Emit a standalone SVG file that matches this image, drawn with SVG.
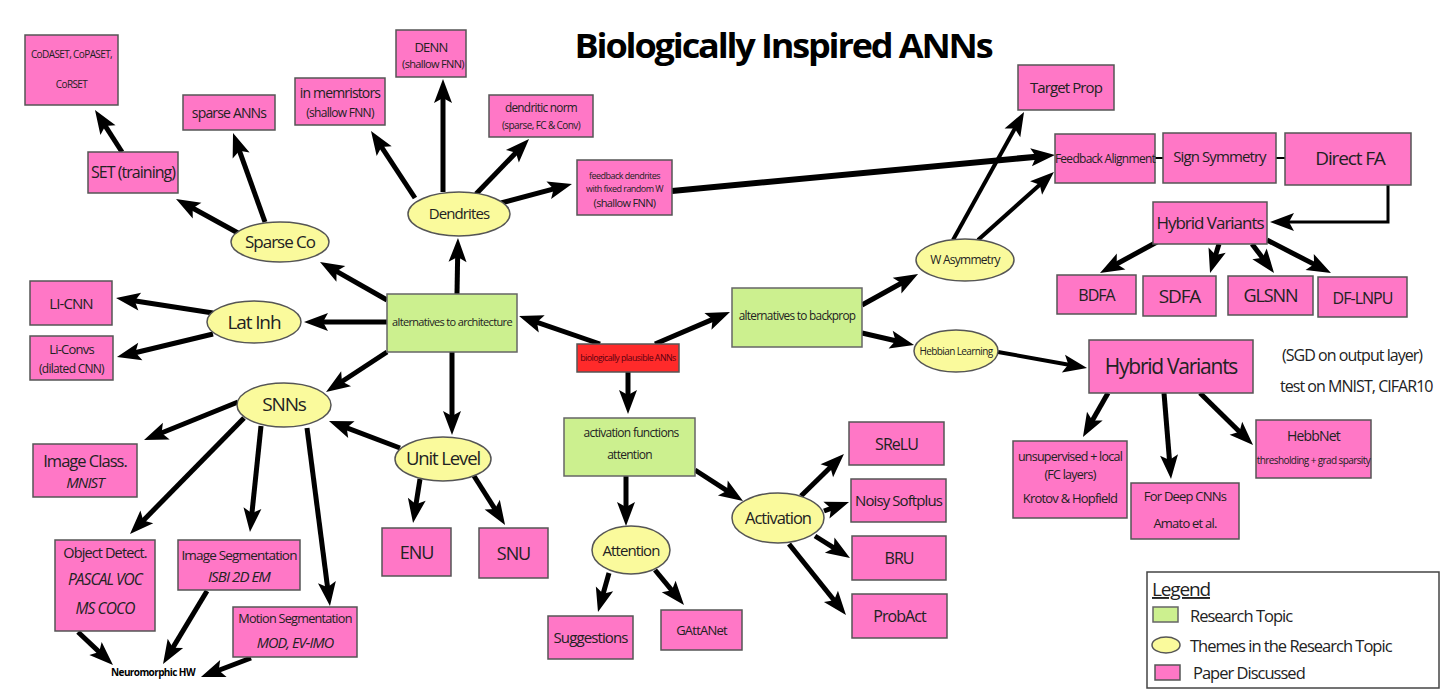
<svg xmlns="http://www.w3.org/2000/svg" width="1446" height="695" viewBox="0 0 1446 695">
<defs>
<marker id="ah" markerUnits="userSpaceOnUse" markerWidth="24" markerHeight="18" refX="14" refY="9" orient="auto" overflow="visible">
<path d="M0,0 L24,9 L0,18 L5,9 Z" fill="#000"/>
</marker>
<style>
text{font-family:"Open Sans","Noto Sans",sans-serif;fill:#222;text-anchor:middle;letter-spacing:-0.06em}
.p{fill:#FF77C6;stroke:#555;stroke-width:1.5}
.g{fill:#CCF08F;stroke:#666;stroke-width:1.5}
.y{fill:#FAFA9C;stroke:#555;stroke-width:1.5}
.r{fill:#FF2A2A;stroke:#555;stroke-width:1.5}
.c line,.c path{stroke:#000;stroke-width:5;fill:none;marker-end:url(#ah)}
.c .thin{stroke-width:2;marker-end:none}
.i{font-style:italic}
</style>
</defs>
<rect width="1446" height="695" fill="#fff"/>
<text x="783" y="58" font-size="34" font-weight="bold" fill="#000" style="fill:#000" textLength="417" lengthAdjust="spacingAndGlyphs">Biologically Inspired ANNs</text>

<g class="c" id="connectors">
<line x1="600" y1="344" x2="528.5" y2="319.3"/>
<line x1="655" y1="344" x2="720.8" y2="315.9"/>
<line x1="628" y1="372" x2="628" y2="404"/>
<line x1="457" y1="294" x2="457.8" y2="248"/>
<line x1="387" y1="300" x2="328.7" y2="266.9"/>
<line x1="387" y1="322" x2="314" y2="322"/>
<line x1="387" y1="352" x2="334.4" y2="386.5"/>
<line x1="452" y1="352" x2="452" y2="425"/>
<line x1="238" y1="233" x2="184.8" y2="203.8"/>
<line x1="265" y1="222" x2="236.4" y2="142.4"/>
<line x1="122" y1="152" x2="100.4" y2="118.4"/>
<line x1="415" y1="198" x2="376.5" y2="139.4"/>
<line x1="443" y1="192" x2="443" y2="89"/>
<line x1="476" y1="194" x2="522.1" y2="146.2"/>
<line x1="501" y1="203" x2="562.3" y2="186.6"/>
<line x1="672" y1="191" x2="1045" y2="155.9" style="stroke-width:6"/>
<line x1="213" y1="313" x2="125.9" y2="299.5"/>
<line x1="213" y1="334" x2="126.7" y2="354.7"/>
<line x1="238" y1="402" x2="153.3" y2="436.3"/>
<line x1="244" y1="418" x2="137" y2="526.9"/>
<line x1="261" y1="426" x2="251" y2="522.1"/>
<line x1="307" y1="428" x2="328.7" y2="596.1"/>
<line x1="400" y1="448" x2="338.3" y2="424.6"/>
<line x1="420" y1="479" x2="414.6" y2="513.1"/>
<line x1="474" y1="476" x2="499.7" y2="516.5"/>
<line x1="78" y1="632" x2="105.7" y2="658.1"/>
<line x1="207" y1="591" x2="168.2" y2="655.4"/>
<line x1="251" y1="658" x2="210.3" y2="673.5"/>
<line x1="862" y1="305" x2="909.3" y2="278.8"/>
<line x1="862" y1="333" x2="904.3" y2="342.8"/>
<line x1="953" y1="240" x2="1019.2" y2="120.7" style="stroke-width:4"/>
<line x1="978" y1="240" x2="1046.5" y2="178.7" style="stroke-width:4"/>
<line x1="998" y1="352" x2="1077.2" y2="366.2" style="stroke-width:4"/>
<path d="M1388,185 V222 H1280" style="stroke-width:3"/>
<line x1="1168" y1="236" x2="1108.8" y2="268.2"/>
<line x1="1219" y1="244" x2="1213" y2="263.5"/>
<line x1="1252" y1="244" x2="1268" y2="265"/>
<line x1="1267" y1="240" x2="1322.1" y2="268.4"/>
<line x1="1108" y1="393" x2="1087.9" y2="428.3"/>
<line x1="1164" y1="393" x2="1170.2" y2="469"/>
<line x1="1200" y1="393" x2="1245.9" y2="438"/>
<line x1="626" y1="476" x2="626" y2="516"/>
<line x1="695" y1="470" x2="734.6" y2="495.6"/>
<line x1="609" y1="573" x2="600.7" y2="602.4"/>
<line x1="655" y1="570" x2="677.6" y2="597.3"/>
<line x1="801" y1="496" x2="836.8" y2="461"/>
<line x1="824" y1="511" x2="839.6" y2="505.4"/>
<line x1="815" y1="536" x2="841.5" y2="552.7"/>
<line x1="789" y1="544" x2="839.7" y2="607.2"/>
<line class="thin" x1="1155" y1="158" x2="1163" y2="158"/>
<line class="thin" x1="1276" y1="158" x2="1285" y2="158"/>
</g>

<g id="n-bio"><rect class="r" x="577" y="344" width="102" height="28"/><text x="628" y="361" font-size="8.8" style="fill:#5a0010">biologically plausible ANNs</text></g>
<g id="n-altarch"><rect class="g" x="387" y="294" width="130" height="58"/><text x="452" y="326" font-size="11">alternatives to architecture</text></g>
<g id="n-altbp"><rect class="g" x="732" y="288" width="130" height="59"/><text x="797" y="320" font-size="11.8">alternatives to backprop</text></g>
<g id="n-actfn"><rect class="g" x="564" y="418" width="131" height="58"/><text x="631" y="437" font-size="12">activation functions</text><text x="629.5" y="459" font-size="12">attention</text></g>

<g id="n-sparseco"><ellipse class="y" cx="280" cy="242" rx="49" ry="20"/><text x="280" y="248" font-size="17">Sparse Co</text></g>
<g id="n-dendrites"><ellipse class="y" cx="459" cy="214" rx="51" ry="22"/><text x="459" y="219" font-size="15">Dendrites</text></g>
<g id="n-latinh"><ellipse class="y" cx="254" cy="322" rx="47" ry="21"/><text x="254" y="329" font-size="19">Lat Inh</text></g>
<g id="n-snns"><ellipse class="y" cx="284" cy="405" rx="47" ry="22"/><text x="284" y="411" font-size="19">SNNs</text></g>
<g id="n-unit"><ellipse class="y" cx="443" cy="459" rx="48" ry="22"/><text x="443" y="465" font-size="18.5">Unit Level</text></g>
<g id="n-attention"><ellipse class="y" cx="631" cy="550" rx="39" ry="24"/><text x="631" y="556" font-size="15">Attention</text></g>
<g id="n-activation"><ellipse class="y" cx="778" cy="518" rx="46" ry="25"/><text x="778" y="524" font-size="16.5">Activation</text></g>
<g id="n-wasym"><ellipse class="y" cx="965" cy="260" rx="49" ry="21"/><text x="965" y="264" font-size="12">W Asymmetry</text></g>
<g id="n-hebb"><ellipse class="y" cx="956" cy="351" rx="42" ry="21"/><text x="956" y="355" font-size="10">Hebbian Learning</text></g>

<g id="n-codaset"><rect class="p" x="25" y="35" width="93" height="70"/><text x="71.5" y="58" font-size="10">CoDASET, CoPASET,</text><text x="71.5" y="88" font-size="10">CoRSET</text></g>
<g id="n-set"><rect class="p" x="88" y="152" width="90" height="41"/><text x="133" y="178" font-size="16">SET (training)</text></g>
<g id="n-sparseanns"><rect class="p" x="183" y="95" width="92" height="35"/><text x="229" y="118" font-size="14">sparse ANNs</text></g>
<g id="n-memristors"><rect class="p" x="295" y="78" width="90" height="47"/><text x="340" y="98" font-size="14">in memristors</text><text x="340" y="117" font-size="12">(shallow FNN)</text></g>
<g id="n-denn"><rect class="p" x="396" y="30" width="70" height="47"/><text x="431" y="52" font-size="13">DENN</text><text x="433" y="68" font-size="11">(shallow FNN)</text></g>
<g id="n-dnorm"><rect class="p" x="489" y="95" width="104" height="42"/><text x="541" y="112" font-size="11.8">dendritic norm</text><text x="541" y="129" font-size="10">(sparse, FC &amp; Conv)</text></g>
<g id="n-fbd"><rect class="p" x="577" y="160" width="95" height="55"/><text x="624.5" y="179" font-size="9">feedback dendrites</text><text x="624.5" y="192" font-size="9">with fixed random W</text><text x="624.5" y="207" font-size="11">(shallow FNN)</text></g>
<g id="n-licnn"><rect class="p" x="30" y="281" width="82" height="44"/><text x="71" y="309" font-size="15">LI-CNN</text></g>
<g id="n-liconvs"><rect class="p" x="30" y="336" width="83" height="44"/><text x="71.5" y="354" font-size="13">Li-Convs</text><text x="71.5" y="373" font-size="12">(dilated CNN)</text></g>
<g id="n-imgclass"><rect class="p" x="33" y="444" width="104" height="53"/><text x="85" y="467" font-size="16.5">Image Class.</text><text class="i" x="85" y="488" font-size="15">MNIST</text></g>
<g id="n-objdet"><rect class="p" x="55" y="540" width="100" height="91"/><text x="105" y="558" font-size="14.5">Object Detect.</text><text class="i" x="105" y="585" font-size="15.5">PASCAL VOC</text><text class="i" x="105" y="614" font-size="15.5">MS COCO</text></g>
<g id="n-imgseg"><rect class="p" x="178" y="540" width="122" height="50"/><text x="239" y="560" font-size="13.5">Image Segmentation</text><text class="i" x="239" y="582" font-size="15">ISBI 2D EM</text></g>
<g id="n-motseg"><rect class="p" x="233" y="607" width="124" height="50"/><text x="295" y="623" font-size="12.7">Motion Segmentation</text><text class="i" x="295" y="648" font-size="14.5">MOD, EV-IMO</text></g>
<g id="n-nhw"><text x="153" y="676" font-size="10" font-weight="bold" style="fill:#000">Neuromorphic HW</text></g>
<g id="n-enu"><rect class="p" x="382" y="528" width="69" height="48"/><text x="416.5" y="559" font-size="18">ENU</text></g>
<g id="n-snu"><rect class="p" x="479" y="528" width="69" height="50"/><text x="513.5" y="560" font-size="18">SNU</text></g>
<g id="n-sugg"><rect class="p" x="548" y="616" width="85" height="43"/><text x="590.5" y="643" font-size="15">Suggestions</text></g>
<g id="n-gatt"><rect class="p" x="661" y="610" width="81" height="40"/><text x="701.5" y="635" font-size="13">GAttANet</text></g>
<g id="n-srelu"><rect class="p" x="849" y="422" width="95" height="43"/><text x="896.5" y="450" font-size="16">SReLU</text></g>
<g id="n-noisy"><rect class="p" x="851" y="479" width="95" height="43"/><text x="898.5" y="506" font-size="15">Noisy Softplus</text></g>
<g id="n-bru"><rect class="p" x="852" y="536" width="94" height="44"/><text x="899" y="564" font-size="16">BRU</text></g>
<g id="n-probact"><rect class="p" x="852" y="594" width="95" height="44"/><text x="899.5" y="622" font-size="16">ProbAct</text></g>
<g id="n-target"><rect class="p" x="1018" y="65" width="96" height="45"/><text x="1066" y="93" font-size="15">Target Prop</text></g>
<g id="n-fa"><rect class="p" x="1055" y="134" width="100" height="49"/><text x="1105" y="163" font-size="12">Feedback Alignment</text></g>
<g id="n-ss"><rect class="p" x="1163" y="133" width="113" height="50"/><text x="1219.5" y="162" font-size="15">Sign Symmetry</text></g>
<g id="n-dfa"><rect class="p" x="1285" y="133" width="126" height="52"/><text x="1350" y="165" font-size="19">Direct FA</text></g>
<g id="n-hyb1"><rect class="p" x="1153" y="202" width="114" height="42"/><text x="1210" y="229" font-size="17">Hybrid Variants</text></g>
<g id="n-bdfa"><rect class="p" x="1057" y="275" width="79" height="39"/><text x="1096.5" y="301" font-size="16">BDFA</text></g>
<g id="n-sdfa"><rect class="p" x="1143" y="276" width="73" height="40"/><text x="1179.5" y="303" font-size="19">SDFA</text></g>
<g id="n-glsnn"><rect class="p" x="1228" y="276" width="85" height="39"/><text x="1270.5" y="302" font-size="18">GLSNN</text></g>
<g id="n-dflnpu"><rect class="p" x="1318" y="277" width="89" height="40"/><text x="1362.5" y="304" font-size="16">DF-LNPU</text></g>
<g id="n-hyb2"><rect class="p" x="1089" y="340" width="164" height="53"/><text x="1171" y="374" font-size="21">Hybrid Variants</text></g>
<g id="n-sgdnote"><text x="1282" y="361" font-size="16" style="text-anchor:start">(SGD on output layer)</text><text x="1280" y="392" font-size="16" style="text-anchor:start">test on MNIST, CIFAR10</text></g>
<g id="n-unsup"><rect class="p" x="1013" y="441" width="114" height="77"/><text x="1070" y="461" font-size="12.5">unsupervised + local</text><text x="1070" y="479" font-size="12.5">(FC layers)</text><text x="1070" y="503" font-size="13">Krotov &amp; Hopfield</text></g>
<g id="n-deepcnn"><rect class="p" x="1131" y="483" width="108" height="56"/><text x="1185" y="501" font-size="13">For Deep CNNs</text><text x="1185" y="528" font-size="13">Amato et al.</text></g>
<g id="n-hebbnet"><rect class="p" x="1256" y="420" width="115" height="58"/><text x="1313.5" y="441" font-size="14">HebbNet</text><text x="1313.5" y="464" font-size="10">thresholding + grad  sparsity</text></g>

<g id="legend">
<rect x="1147" y="572" width="292" height="116" fill="#fff" stroke="#444" stroke-width="1.5"/>
<text x="1152" y="596" font-size="19" style="text-anchor:start" text-decoration="underline">Legend</text>
<rect class="g" x="1153" y="607" width="25" height="15"/>
<text x="1190" y="622" font-size="16.5" style="text-anchor:start">Research Topic</text>
<ellipse class="y" cx="1166" cy="645" rx="14" ry="8"/>
<text x="1190" y="652" font-size="16.5" style="text-anchor:start">Themes in the Research Topic</text>
<rect class="p" x="1155" y="665" width="25" height="15"/>
<text x="1193" y="679" font-size="16.5" style="text-anchor:start">Paper Discussed</text>
</g>
</svg>
